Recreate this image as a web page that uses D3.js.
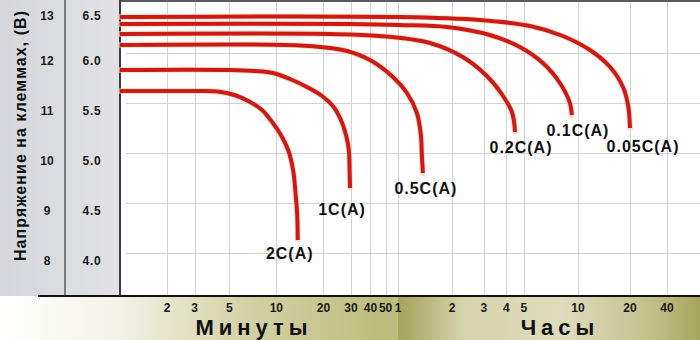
<!DOCTYPE html>
<html>
<head>
<meta charset="utf-8">
<script src="https://cdn.jsdelivr.net/npm/d3@7"></script>
<style>
  body { margin: 0; background: #fff; }
  svg { display: block; font-family: "Liberation Sans", Arial, sans-serif; }
</style>
</head>
<body>
<svg id="chart" width="700" height="340"></svg>
<script>
// ---- data ---------------------------------------------------------------
// Time axis ticks (minutes part, then hours part)
const minuteTicks = [2, 3, 5, 10, 20, 30, 40, 50, 60];
const minuteTickLabels = ["2", "3", "5", "10", "20", "30", "40", "50", "1"];
const hourTicks = [2, 3, 4, 5, 10, 20, 40];
const hourTickLabels = ["2", "3", "4", "5", "10", "20", "40"];

// Voltage ticks: 12 V battery and 6 V battery
const voltTicks12 = [13, 12, 11, 10, 9, 8];
const voltTicks6 = ["6.5", "6.0", "5.5", "5.0", "4.5", "4.0"];

// Discharge rates
const rates = ["2C(A)", "1C(A)", "0.5C(A)", "0.2C(A)", "0.1C(A)", "0.05C(A)"];

// Discharge curves: time in minutes, terminal voltage in volts (12 V scale)
const time2C  = [1, 3.2, 4.2, 5.4, 6.8, 8.1, 9.5, 10.7, 11.9, 12.8, 13.3, 13.6, 13.7];
const volt2C  = [11.24, 11.24, 11.23, 11.16, 11.02, 10.86, 10.6, 10.36, 10.06, 9.66, 9.16, 8.76, 8.26];
const time1C  = [1, 5.05, 7.3, 9.5, 12.2, 15.7, 19.6, 23.0, 25.9, 27.9, 29.1, 29.4, 29.6];
const volt1C  = [11.66, 11.66, 11.64, 11.6, 11.48, 11.32, 11.14, 10.94, 10.66, 10.36, 10.06, 9.66, 9.3];
const time05C = [1, 11.3, 19.0, 28.3, 39.7, 55.7, 67.3, 76.4, 80.4, 81.4, 82.5];
const volt05C = [12.16, 12.16, 12.12, 12.04, 11.86, 11.52, 11.2, 10.8, 10.36, 9.96, 9.6];
const time02C = [1, 22.0, 46.0, 90.2, 137.3, 187.0, 230, 258.7, 268];
const volt02C = [12.38, 12.38, 12.34, 12.2, 11.92, 11.54, 11.14, 10.8, 10.42];
const time01C = [1, 29.6, 61.5, 112, 194, 285, 383, 476, 541, 555];
const volt01C = [12.58, 12.58, 12.56, 12.52, 12.36, 12.12, 11.8, 11.4, 11.0, 10.76];
const time005C = [1, 61.5, 171.5, 325, 494, 703, 920, 1093, 1169, 1200];
const volt005C = [12.72, 12.72, 12.66, 12.54, 12.34, 12.06, 11.72, 11.32, 10.96, 10.5];

const seriesTimes = [time2C, time1C, time05C, time02C, time01C, time005C];
const seriesVolts = [volt2C, volt1C, volt05C, volt02C, volt01C, volt005C];

// ---- layout -------------------------------------------------------------
const W = 700, H = 340;
const plotLeft = 120, plotRight = 700, plotTop = 2, plotBottom = 296;
const col1 = 65;            // divider between the 12 V and 6 V columns

// Time scale: piecewise logarithmic (minutes, then hours)
const x = d3.scaleLog()
  .domain([1, 60, 600, 1200, 2400])
  .range([plotLeft, plotLeft + 278, plotLeft + 458, plotLeft + 510, plotLeft + 547]);

const y = d3.scaleLinear().domain([8, 13]).range([253, 3]);
const y6 = d3.scaleLinear().domain([4, 6.5]).range([253, 3]);

// label placement relative to each curve's end point
const labelOffsets = [[-8, 13], [-8, 21], [3, 15], [6, 15], [6, 15], [13, 18]];

const svg = d3.select("#chart");
const defs = svg.append("defs");

// left panel shading
const gLeft = defs.append("linearGradient").attr("id", "leftPanel")
  .attr("x1", "0").attr("x2", "1").attr("y1", "0").attr("y2", "0");
gLeft.append("stop").attr("offset", "0%").attr("stop-color", "#d4d6db");
gLeft.append("stop").attr("offset", "55%").attr("stop-color", "#dcdde1");
gLeft.append("stop").attr("offset", "100%").attr("stop-color", "#e2e2e5");

// bottom bands
const gMin = defs.append("linearGradient").attr("id", "minBand")
  .attr("x1", "0").attr("x2", "1").attr("y1", "0").attr("y2", "0");
gMin.append("stop").attr("offset", "0%").attr("stop-color", "#ffffff");
gMin.append("stop").attr("offset", "30%").attr("stop-color", "#f2f2e6");
gMin.append("stop").attr("offset", "62%").attr("stop-color", "#d2d1a4");
gMin.append("stop").attr("offset", "100%").attr("stop-color", "#bcbb7a");

const gHour = defs.append("linearGradient").attr("id", "hourBand")
  .attr("x1", "0").attr("x2", "1").attr("y1", "0").attr("y2", "0");
gHour.append("stop").attr("offset", "0%").attr("stop-color", "#a4a35a");
gHour.append("stop").attr("offset", "22%").attr("stop-color", "#d6d4ad");
gHour.append("stop").attr("offset", "55%").attr("stop-color", "#dedcbc");
gHour.append("stop").attr("offset", "85%").attr("stop-color", "#c1bf86");
gHour.append("stop").attr("offset", "100%").attr("stop-color", "#a6a55e");

// background pieces
svg.append("rect").attr("x", 0).attr("y", 0).attr("width", plotLeft).attr("height", plotBottom)
  .attr("fill", "url(#leftPanel)");
svg.append("rect").attr("x", plotLeft).attr("y", 0).attr("width", plotRight - plotLeft).attr("height", plotBottom)
  .attr("fill", "#ffffff");
svg.append("rect").attr("x", 0).attr("y", plotBottom).attr("width", x(60)).attr("height", H - plotBottom)
  .attr("fill", "url(#minBand)");
svg.append("rect").attr("x", x(60)).attr("y", plotBottom).attr("width", W - x(60)).attr("height", H - plotBottom)
  .attr("fill", "url(#hourBand)");

// grid
const grid = svg.append("g").attr("stroke", "#d3d3d3").attr("stroke-width", 1);
const vTicks = minuteTicks.concat(hourTicks.map(h => h * 60));
grid.selectAll("line.v").data(vTicks).join("line").attr("class", "v")
  .attr("x1", d => Math.round(x(d)) + 0.5).attr("x2", d => Math.round(x(d)) + 0.5)
  .attr("y1", plotTop).attr("y2", plotBottom);
grid.selectAll("line.h").data(voltTicks12.slice(1)).join("line").attr("class", "h")
  .attr("x1", plotLeft + 6).attr("x2", plotRight)
  .attr("y1", d => Math.round(y(d)) + 0.5).attr("y2", d => Math.round(y(d)) + 0.5);

// frame lines
svg.append("line").attr("x1", plotLeft).attr("x2", plotRight).attr("y1", 1).attr("y2", 1)
  .attr("stroke", "#5a5a5a").attr("stroke-width", 2);
svg.append("line").attr("x1", col1).attr("x2", col1).attr("y1", 0).attr("y2", plotBottom)
  .attr("stroke", "#5c5c5c").attr("stroke-width", 1.5);
svg.append("line").attr("x1", plotLeft).attr("x2", plotLeft).attr("y1", 0).attr("y2", plotBottom)
  .attr("stroke", "#3c3c3c").attr("stroke-width", 2);
svg.append("line").attr("x1", 38).attr("x2", plotRight).attr("y1", plotBottom).attr("y2", plotBottom)
  .attr("stroke", "#111").attr("stroke-width", 2);

// voltage tick labels
const tickFont = { "font-size": "12px", "font-weight": "bold", "fill": "#1a1a1a" };
function applyFont(sel, f) { Object.entries(f).forEach(([k, v]) => sel.attr(k, v)); return sel; }

applyFont(svg.append("g").selectAll("text").data(voltTicks12).join("text")
  .attr("x", 47).attr("y", d => Math.max(y(d) + 8, 16) + 4)
  .attr("text-anchor", "middle").text(d => d), tickFont);
applyFont(svg.append("g").selectAll("text").data(voltTicks6).join("text")
  .attr("x", 92).attr("y", d => Math.max(y6(+d) + 8, 16) + 4)
  .attr("text-anchor", "middle").attr("letter-spacing", "0.8px").text(d => d), tickFont);

// axis title
svg.append("text")
  .attr("transform", "translate(26,136) rotate(-90)")
  .attr("text-anchor", "middle")
  .attr("font-size", "16px").attr("font-weight", "bold").attr("fill", "#111")
  .attr("textLength", 250).attr("lengthAdjust", "spacing")
  .text("Напряжение на клеммах, (В)");

// time tick labels
applyFont(svg.append("g").selectAll("text").data(minuteTicks).join("text")
  .attr("x", d => x(d)).attr("y", 312).attr("text-anchor", "middle")
  .text((d, i) => minuteTickLabels[i]), tickFont);
applyFont(svg.append("g").selectAll("text").data(hourTicks).join("text")
  .attr("x", d => x(d * 60)).attr("y", 312).attr("text-anchor", "middle")
  .text((d, i) => hourTickLabels[i]), tickFont);

// unit captions
svg.append("text").attr("x", 254).attr("y", 335).attr("text-anchor", "middle")
  .attr("font-size", "22px").attr("font-weight", "bold").attr("fill", "#111")
  .attr("letter-spacing", "5px").text("Минуты");
svg.append("text").attr("x", 560).attr("y", 335).attr("text-anchor", "middle")
  .attr("font-size", "22px").attr("font-weight", "bold").attr("fill", "#111")
  .attr("letter-spacing", "5px").text("Часы");

// discharge curves
const line = d3.line().x(d => x(d.t)).y(d => y(d.v)).curve(d3.curveCatmullRom.alpha(0.5));
const series = rates.map((r, i) => ({
  name: r,
  pts: seriesTimes[i].map((t, j) => ({ t, v: seriesVolts[i][j] }))
}));

const curves = svg.append("g").attr("fill", "none");
curves.selectAll("path.halo").data(series).join("path").attr("class", "halo")
  .attr("d", d => line(d.pts)).attr("stroke", "#f6c9b8").attr("stroke-width", 6)
  .attr("stroke-linecap", "round").attr("opacity", 0.6);
curves.selectAll("path.main").data(series).join("path").attr("class", "main")
  .attr("d", d => line(d.pts)).attr("stroke", "#cc1a14").attr("stroke-width", 4)
  .attr("stroke-linecap", "butt");

// curve labels
svg.append("g").selectAll("text").data(series).join("text")
  .attr("x", (d, i) => x(d.pts[d.pts.length - 1].t) + labelOffsets[i][0])
  .attr("y", (d, i) => y(d.pts[d.pts.length - 1].v) + labelOffsets[i][1] + 6)
  .attr("text-anchor", "middle")
  .attr("font-size", "16px").attr("font-weight", "bold").attr("fill", "#111")
  .attr("letter-spacing", "1px")
  .text(d => d.name);
</script>
</body>
</html>
